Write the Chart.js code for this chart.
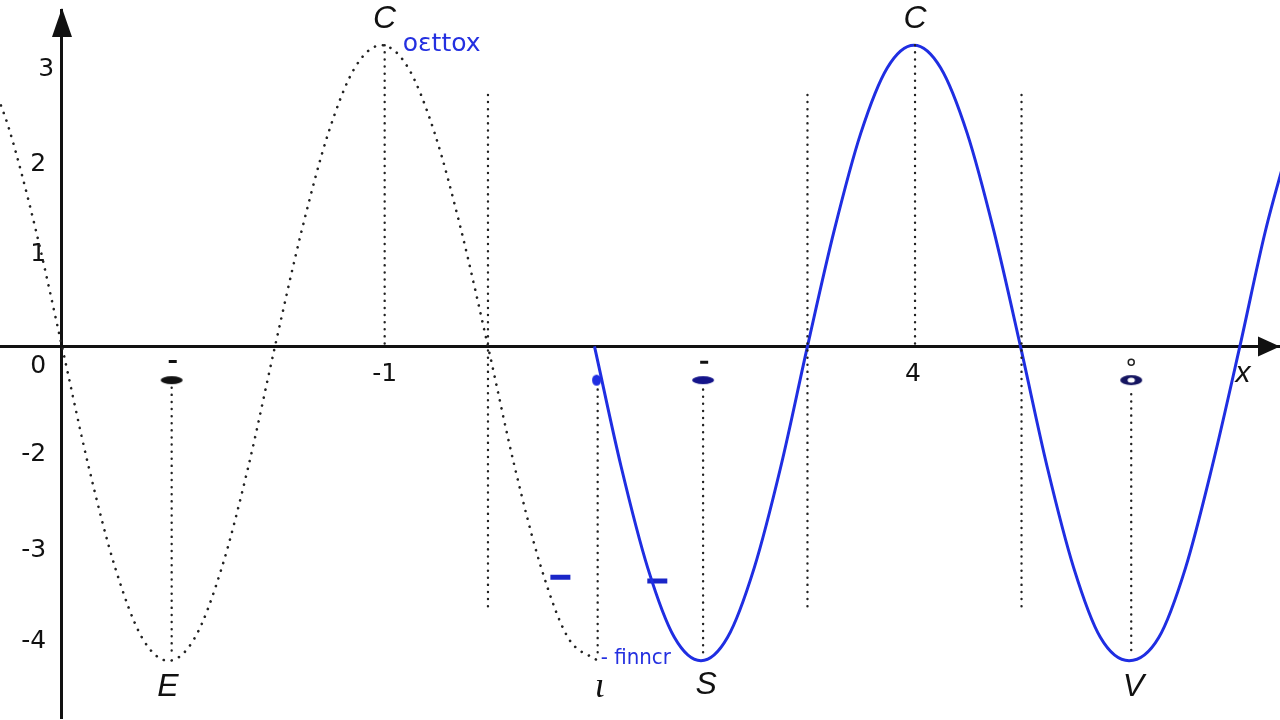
<!DOCTYPE html>
<html>
<head>
<meta charset="utf-8">
<script src="https://cdn.jsdelivr.net/npm/chart.js@4.4.1/dist/chart.umd.min.js"></script>
<style>
  html, body { margin: 0; padding: 0; background: #fff; overflow: hidden; }
  #wrap { width: 1280px; height: 720px; }
</style>
</head>
<body>
<div id="wrap"><canvas id="chart" width="1280" height="720"></canvas></div>
<script>
// dotted black wave
var dottedX = [-0.6, -0.5, -0.25, 0, 0.25, 0.5, 0.75, 1, 1.25, 1.5, 1.75, 2, 2.25, 2.5, 2.75, 3, 3.25, 3.5, 3.75, 4, 4.25, 4.5, 4.75, 5.03]
var dottedY = [2.65, 2.33, 1.26, 0, -1.28, -2.36, -3.1, -3.35, -3.1, -2.36, -1.28, 0, 1.23, 2.27, 2.97, 3.21, 2.97, 2.27, 1.23, 0, -1.28, -2.36, -3.1, -3.35]

// solid blue wave
var blueX = [5.0, 5.25, 5.5, 5.75, 6, 6.25, 6.5, 6.75, 7, 7.25, 7.5, 7.75, 8, 8.25, 8.5, 8.75, 9, 9.25, 9.5, 9.75, 10.02, 10.3, 10.55, 10.8, 11.06, 11.3, 11.55]
var blueY = [0, -1.28, -2.36, -3.1, -3.35, -3.1, -2.36, -1.28, 0, 1.23, 2.27, 2.97, 3.21, 2.97, 2.27, 1.23, 0, -1.28, -2.36, -3.1, -3.35, -3.1, -2.36, -1.28, 0, 1.23, 2.27]

// vertical dotted drop lines
var dropX = [1.03, 3.03, 4.0, 5.03, 6.02, 7.0, 8.01, 9.01, 10.04]
var dropTop = [-0.44, 3.21, 2.68, -0.46, -0.46, 2.68, 3.21, 2.68, -0.51]
var dropBottom = [-3.3, 0, -2.77, -3.3, -3.3, -2.77, 0, -2.77, -3.3]

// tick values and their printed labels
var xTickVals = [3.03, 7.99]
var xTickLabels = ['-1', '4']
var yTickVals = [2.95, 1.94, 0.98, -0.21, -1.15, -2.17, -3.15]
var yTickLabels = ['3 ', '2  ', '1  ', '0  ', '-2  ', '-3  ', '-4  ']

// small markers near the axis
var blackBlobX = [1.03], blackBlobY = [-0.36]
var navyBlobX = [6.02], navyBlobY = [-0.36]
var ringBlobX = [10.04], ringBlobY = [-0.36]
var blueDotX = [5.02], blueDotY = [-0.36]
var tinyDashX = [1.04, 6.03], tinyDashY = [-0.16, -0.17]
var tinyRingX = [10.04], tinyRingY = [-0.17]
var blueBarX = [4.68, 5.59], blueBarY = [-2.46, -2.5]

// letters and stray text on the figure
var notes = [
  { t: 'C', x: 3.03, y: 3.49, font: 'italic 32px "Liberation Sans"', c: '#111', a: 'center' },
  { t: 'C', x: 8.01, y: 3.49, font: 'italic 32px "Liberation Sans"', c: '#111', a: 'center' },
  { t: 'oεttox', x: 3.2, y: 3.22, font: '25px "DejaVu Sans"', c: '#2430e0', a: 'left' },
  { t: 'E', x: 0.995, y: -3.63, font: 'italic 32px "Liberation Sans"', c: '#111', a: 'center' },
  { t: 'ι', x: 5.05, y: -3.63, font: 'italic 36px "Liberation Serif"', c: '#111', a: 'center' },
  { t: 'S', x: 6.05, y: -3.61, font: 'italic 32px "Liberation Sans"', c: '#111', a: 'center' },
  { t: 'V', x: 10.06, y: -3.63, font: 'italic 32px "Liberation Sans"', c: '#111', a: 'center' },
  { t: 'x', x: 11.09, y: -0.29, font: 'italic 30px "Liberation Sans"', c: '#111', a: 'center' },
  { t: '- finncr', x: 5.06, y: -3.32, font: '22px "DejaVu Sans Condensed"', c: '#2430e0', a: 'left' }
]

function pts(xs, ys) {
  return xs.map(function (x, i) { return { x: x, y: ys[i] } })
}

function blob(w, h, color, hole) {
  var c = document.createElement('canvas')
  c.width = w + 2; c.height = h + 2
  var g = c.getContext('2d')
  g.fillStyle = color
  g.beginPath(); g.ellipse(c.width / 2, c.height / 2, w / 2, h / 2, 0, 0, Math.PI * 2); g.fill()
  if (hole) {
    g.fillStyle = '#fff'
    g.beginPath(); g.ellipse(c.width / 2, c.height / 2, w / 6, h / 4, 0, 0, Math.PI * 2); g.fill()
  }
  return c
}

var datasets = []

dropX.forEach(function (x, i) {
  datasets.push({
    data: [{ x: x, y: dropTop[i] }, { x: x, y: dropBottom[i] }],
    showLine: true, borderColor: '#222', borderWidth: 2.4,
    borderDash: [0.1, 7], borderCapStyle: 'round', pointRadius: 0
  })
})

datasets.push({
  data: pts(dottedX, dottedY), showLine: true, cubicInterpolationMode: 'monotone',
  borderColor: '#222', borderWidth: 2.6, borderDash: [0.1, 8], borderCapStyle: 'round', pointRadius: 0
})
datasets.push({
  data: pts(blueX, blueY), showLine: true, cubicInterpolationMode: 'monotone',
  borderColor: '#1f2ee2', borderWidth: 3, pointRadius: 0
})

datasets.push({ data: pts(blackBlobX, blackBlobY), pointStyle: blob(22, 8, '#111'), pointRadius: 10 })
datasets.push({ data: pts(navyBlobX, navyBlobY), pointStyle: blob(22, 8, '#14148a'), pointRadius: 10 })
datasets.push({ data: pts(ringBlobX, ringBlobY), pointStyle: blob(22, 10, '#141460', true), pointRadius: 10 })
datasets.push({ data: pts(blueDotX, blueDotY), pointStyle: blob(9, 11, '#1f2ee2'), pointRadius: 6 })
datasets.push({ data: pts(tinyDashX, tinyDashY), pointStyle: 'line', pointRadius: 4, borderWidth: 3, borderColor: '#111' })
datasets.push({ data: pts(tinyRingX, tinyRingY), pointStyle: 'circle', pointRadius: 3, borderWidth: 1.5, borderColor: '#222', backgroundColor: '#fff' })
datasets.push({ data: pts(blueBarX, blueBarY), pointStyle: 'line', pointRadius: 10, borderWidth: 5, borderColor: '#1a26c8' })

var decor = {
  id: 'decor',
  afterDraw: function (chart) {
    var ctx = chart.ctx, xs = chart.scales.x, ys = chart.scales.y
    var ax = xs.getPixelForValue(0), ay = ys.getPixelForValue(0)
    ctx.save()
    ctx.fillStyle = '#111'
    // arrow heads
    ctx.beginPath(); ctx.moveTo(ax, 8); ctx.lineTo(ax - 10, 37); ctx.lineTo(ax + 10, 37); ctx.closePath(); ctx.fill()
    ctx.beginPath(); ctx.moveTo(1280, ay); ctx.lineTo(1258, ay - 10); ctx.lineTo(1258, ay + 10); ctx.closePath(); ctx.fill()
    ctx.textBaseline = 'middle'
    notes.forEach(function (n) {
      ctx.font = n.font
      ctx.fillStyle = n.c
      ctx.textAlign = n.a
      ctx.fillText(n.t, xs.getPixelForValue(n.x), ys.getPixelForValue(n.y))
    })
    ctx.restore()
  }
}

new Chart(document.getElementById('chart'), {
  type: 'scatter',
  data: { datasets: datasets },
  options: {
    responsive: false,
    animation: false,
    layout: { autoPadding: false, padding: { top: 10, left: 0, right: 0, bottom: 0 } },
    plugins: { legend: { display: false }, tooltip: { enabled: false } },
    scales: {
      x: {
        type: 'linear', min: -0.582, max: 11.437, position: { y: 0 },
        grid: { display: false, drawTicks: false },
        border: { display: true, color: '#111', width: 3, dash: [13, 4] },
        afterBuildTicks: function (s) { s.ticks = xTickVals.map(function (v) { return { value: v } }) },
        ticks: {
          autoSkip: false, maxRotation: 0, padding: 13, color: '#111',
          font: { family: 'DejaVu Sans', size: 25 },
          callback: function (v, i) { return xTickLabels[i] }
        }
      },
      y: {
        type: 'linear', min: -3.968, max: 3.585, position: { x: 0 },
        grid: { display: false, drawTicks: false },
        border: { display: true, color: '#111', width: 3 },
        afterBuildTicks: function (s) { s.ticks = yTickVals.map(function (v) { return { value: v } }) },
        ticks: {
          autoSkip: false, padding: 0, color: '#111',
          font: { family: 'DejaVu Sans', size: 25, lineHeight: 0.1 },
          callback: function (v, i) { return yTickLabels[i] }
        }
      }
    }
  },
  plugins: [decor]
})
</script>
</body>
</html>
